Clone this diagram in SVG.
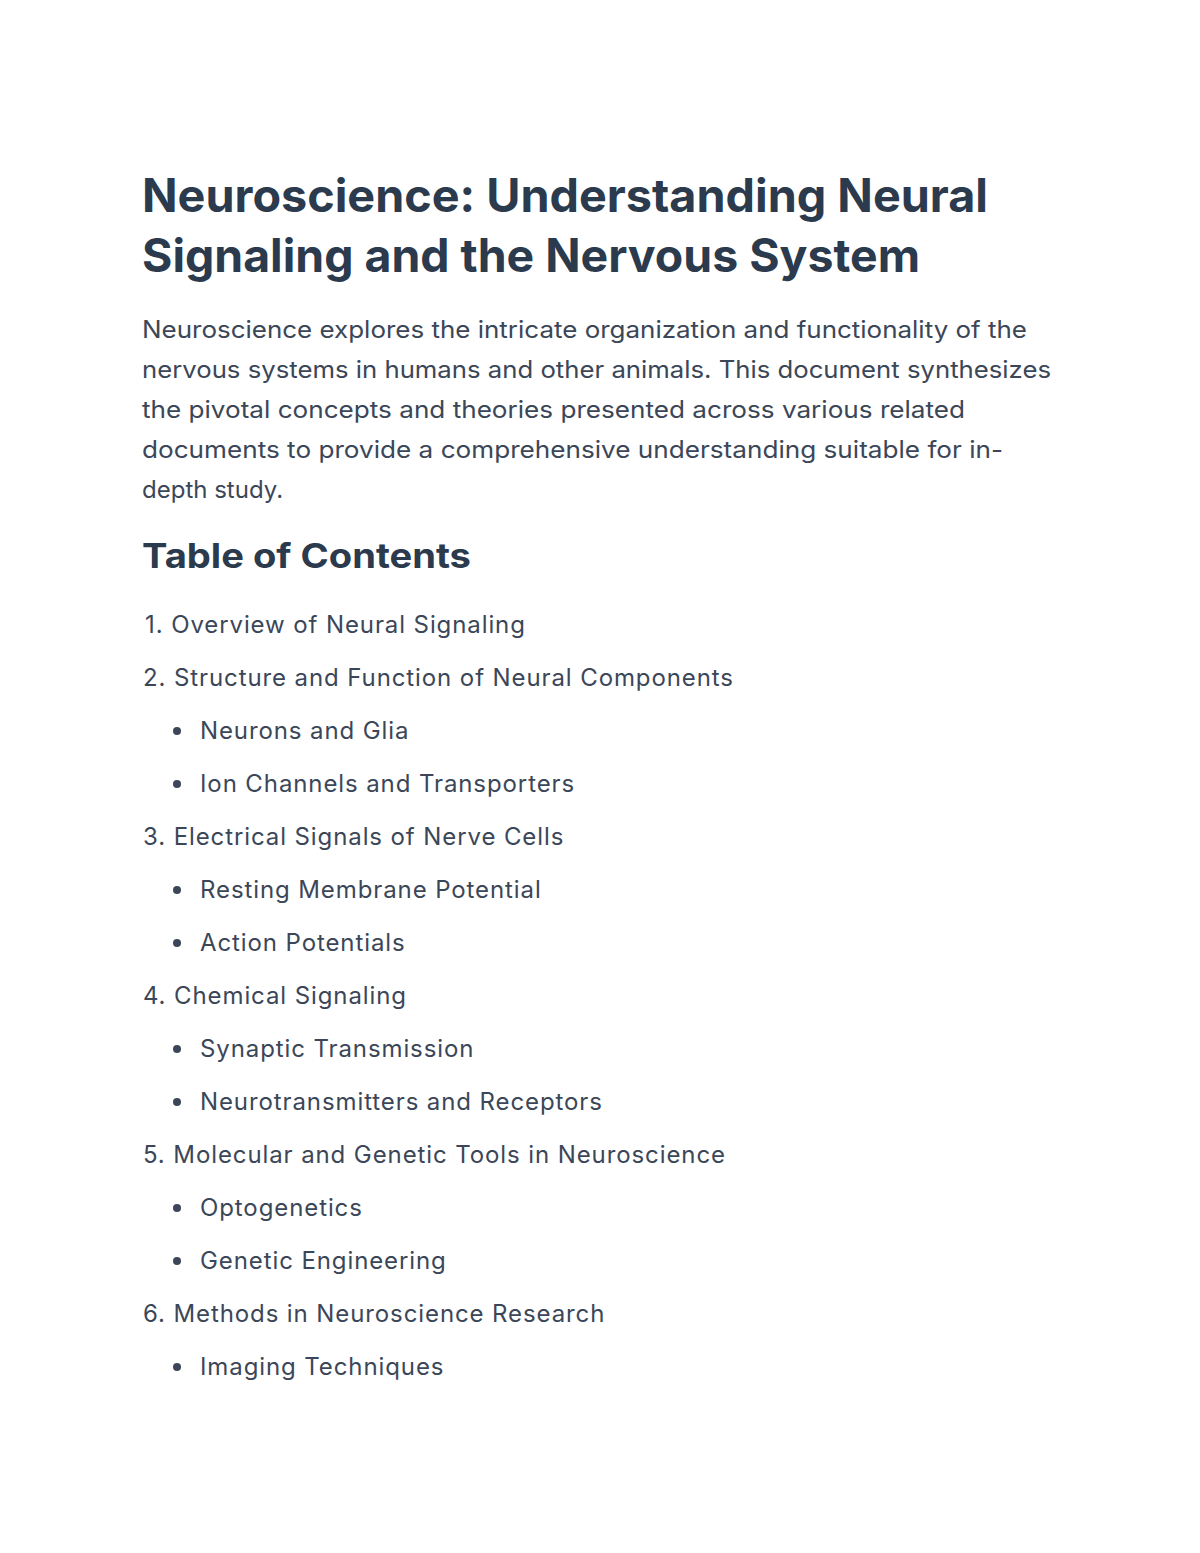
<svg xmlns="http://www.w3.org/2000/svg" width="1200" height="1553" viewBox="0 0 1200 1553">
<style>
.t{font-family:Inter,"Liberation Sans",sans-serif;font-weight:700;fill:#2b3a4d}
.b{font-family:Inter,"Liberation Sans",sans-serif;font-size:24px;fill:#3b4758}
.l{letter-spacing:0.9px}
</style>
<rect width="1200" height="1553" fill="#fff"/>
<text class="t" font-size="46" x="142" y="212" textLength="846" lengthAdjust="spacingAndGlyphs">Neuroscience: Understanding Neural</text>
<text class="t" font-size="46" x="142" y="272" textLength="778" lengthAdjust="spacingAndGlyphs">Signaling and the Nervous System</text>
<text class="b" x="142" y="338" textLength="885" lengthAdjust="spacingAndGlyphs">Neuroscience explores the intricate organization and functionality of the</text>
<text class="b" x="142" y="378" textLength="909" lengthAdjust="spacingAndGlyphs">nervous systems in humans and other animals. This document synthesizes</text>
<text class="b" x="142" y="418" textLength="823" lengthAdjust="spacingAndGlyphs">the pivotal concepts and theories presented across various related</text>
<text class="b" x="142" y="458" textLength="861" lengthAdjust="spacingAndGlyphs">documents to provide a comprehensive understanding suitable for in-</text>
<text class="b" x="142" y="498">depth study.</text>
<text class="t" font-size="34" x="142" y="568" textLength="329" lengthAdjust="spacingAndGlyphs">Table of Contents</text>
<g class="b l">
<text x="145" y="633">1. Overview of Neural Signaling</text>
<text x="143" y="686">2. Structure and Function of Neural Components</text>
<text x="200" y="739">Neurons and Glia</text>
<text x="200" y="792">Ion Channels and Transporters</text>
<text x="143" y="845">3. Electrical Signals of Nerve Cells</text>
<text x="200" y="898">Resting Membrane Potential</text>
<text x="200" y="951">Action Potentials</text>
<text x="143" y="1004">4. Chemical Signaling</text>
<text x="200" y="1057">Synaptic Transmission</text>
<text x="200" y="1110">Neurotransmitters and Receptors</text>
<text x="143" y="1163">5. Molecular and Genetic Tools in Neuroscience</text>
<text x="200" y="1216">Optogenetics</text>
<text x="200" y="1269">Genetic Engineering</text>
<text x="143" y="1322">6. Methods in Neuroscience Research</text>
<text x="200" y="1375">Imaging Techniques</text>
</g>
<g fill="#3b4758">
<circle cx="177" cy="731" r="4"/><circle cx="177" cy="784" r="4"/>
<circle cx="177" cy="890" r="4"/><circle cx="177" cy="943" r="4"/>
<circle cx="177" cy="1049" r="4"/><circle cx="177" cy="1102" r="4"/>
<circle cx="177" cy="1208" r="4"/><circle cx="177" cy="1261" r="4"/>
<circle cx="177" cy="1367" r="4"/>
</g>
</svg>
